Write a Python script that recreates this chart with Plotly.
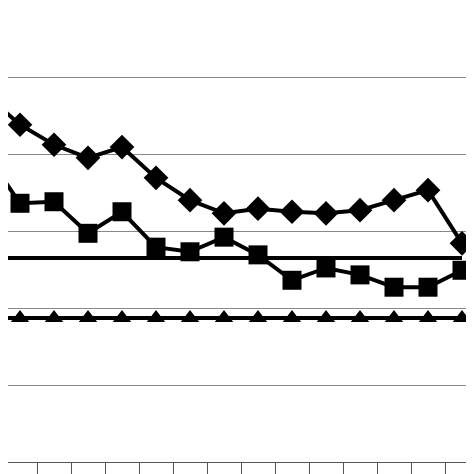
import plotly.graph_objects as go

# x positions (category index); -1 is the point just off the left edge
idx = list(range(-1, 14))
diamond = [4.77, 4.38, 4.12, 3.95, 4.09, 3.69, 3.40, 3.23, 3.29, 3.25, 3.23, 3.27, 3.40, 3.53, 2.84]
square = [4.0, 3.36, 3.38, 2.97, 3.25, 2.79, 2.73, 2.92, 2.69, 2.36, 2.52, 2.43, 2.27, 2.27, 2.49]
triangle = [1.87] * 15
flat = [2.65] * 15
ticks = [i - 0.5 for i in range(0, 15)]

fig = go.Figure()
fig.add_trace(go.Scatter(x=idx, y=flat, mode="lines", line=dict(color="black", width=4)))
fig.add_trace(go.Scatter(x=idx, y=triangle, mode="lines+markers",
                         line=dict(color="black", width=4),
                         marker=dict(symbol="triangle-up", size=16, color="black")))
fig.add_trace(go.Scatter(x=idx, y=square, mode="lines+markers",
                         line=dict(color="black", width=4),
                         marker=dict(symbol="square", size=19, color="black")))
fig.add_trace(go.Scatter(x=idx, y=diamond, mode="lines+markers",
                         line=dict(color="black", width=4),
                         marker=dict(symbol="diamond", size=19, color="black")))

fig.update_layout(
    width=474, height=474,
    margin=dict(l=0, r=0, t=0, b=20),
    paper_bgcolor="white", plot_bgcolor="white",
    showlegend=False,
    xaxis=dict(range=[-12 / 34, 462 / 34], tickvals=ticks, ticks="outside", ticklen=12,
               tickcolor="#555", showticklabels=False, showgrid=False,
               showline=True, linecolor="#555", linewidth=1, zeroline=False),
    yaxis=dict(range=[0, 454 / 77], dtick=1, showticklabels=False, gridcolor="#888",
               gridwidth=1, zeroline=False),
)
fig.write_html("out.html")
